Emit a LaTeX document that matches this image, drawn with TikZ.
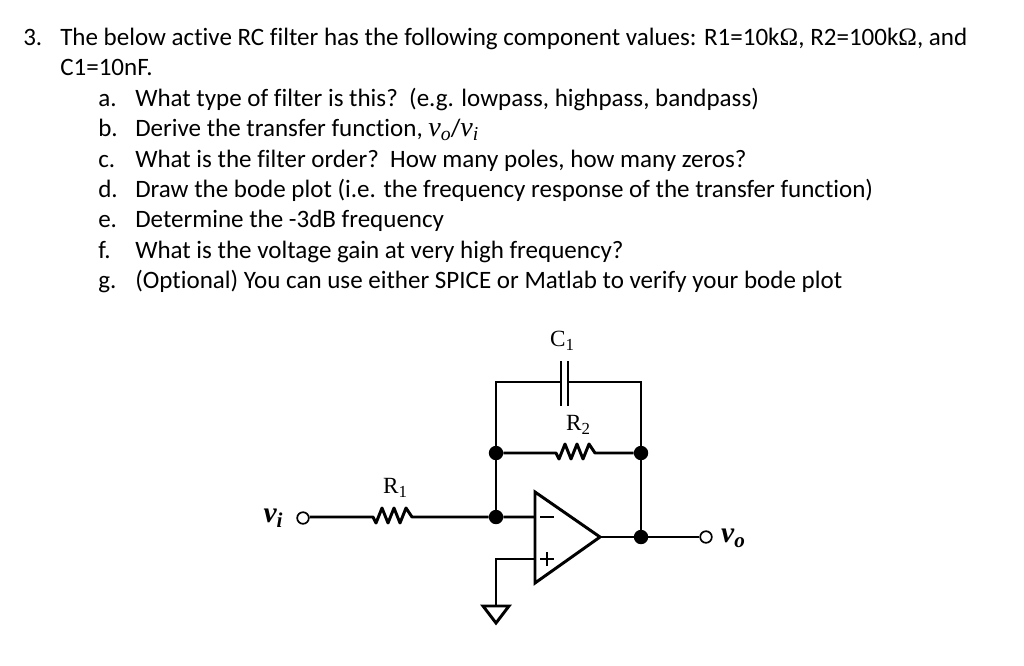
\documentclass[tikz,border=0pt]{standalone}
\usepackage{fontspec}
\setmainfont[Ligatures=NoCommon]{Carlito}
\newfontfamily\varfont{Liberation Serif}
\tikzset{
 wire/.style={line width=2.1pt},
 txt/.style={anchor=base west,inner sep=0pt,font=\fontsize{17.8}{20}\selectfont},
 dot/.style={circle,fill=black,inner sep=0pt,minimum size=0.36cm},
 term/.style={circle,draw,line width=1.2pt,fill=white,inner sep=0pt,minimum size=0.29cm},
 lab/.style={inner sep=0pt,font=\varfont\fontsize{16.5}{18}\selectfont}
}
\newcommand{\sub}[1]{\raisebox{-2.5pt}{\fontsize{12}{12}\selectfont #1}}
\newcommand{\volt}[1]{{\varfont\bfseries\itshape\fontsize{21}{22}\selectfont v\raisebox{-3.5pt}{\fontsize{15}{15}\selectfont #1}}}
\newcommand{\inl}[1]{{\varfont\itshape\fontsize{20}{20}\selectfont v\raisebox{-2.5pt}{\fontsize{14}{14}\selectfont #1}}}
\newcommand{\ohm}{{\varfont\symbol{"03A9}}}
\newcommand{\zig}{-- ++(3,6) -- ++(6,-15) -- ++(6,15) -- ++(6,-15) -- ++(6,15) -- ++(6,-15) -- ++(6,9)}
\begin{document}
\begin{tikzpicture}[x=0.025cm,y=-0.025cm]
 \useasboundingbox (0,0) rectangle (1024,665);
 % question text
 \node [txt] (num) at (23,45) {3.};
 \node [txt] (line1) at (60,45) {The below active RC filter has the following component values: R1=10k\ohm, R2=100k\ohm, and};
 \node [txt] (line2) at (60,75.5) {C1=10nF.};
 \node [txt] (ma) at (98,106) {a.};
 \node [txt] (ta) at (135,106) {What type of filter is this?\ \ (e.g. lowpass, highpass, bandpass)};
 \node [txt] (mb) at (98,136.5) {b.};
 \node [txt] (tb) at (135,136.5) {Derive the transfer function,\ \inl{o}/\inl{i}};
 \node [txt] (mc) at (98,167) {c.};
 \node [txt] (tc) at (135,167) {What is the filter order?\ \ How many poles, how many zeros?};
 \node [txt] (md) at (98,197.5) {d.};
 \node [txt] (td) at (135,197.5) {Draw the bode plot (i.e. the frequency response of the transfer function)};
 \node [txt] (me) at (98,227.5) {e.};
 \node [txt] (te) at (135,227.5) {Determine the -3dB frequency};
 \node [txt] (mf) at (98,258) {f.};
 \node [txt] (tf) at (135,258) {What is the voltage gain at very high frequency?};
 \node [txt] (mg) at (98,288.5) {g.};
 \node [txt] (tg) at (135,288.5) {(Optional) You can use either SPICE or Matlab to verify your bode plot};
 % circuit points
 \node [term] (vin) at (303,518) {};
 \node [term] (vout) at (706,537) {};
 \node [dot] (jin) at (496,517) {};
 \node [dot] (jl) at (496,453) {};
 \node [dot] (jr) at (641,453) {};
 \node [dot] (jout) at (641,537) {};
 \coordinate (tl) at (496,382);
 \coordinate (tr) at (641,382);
 \coordinate (r1a) at (373,517);
 \coordinate (r2a) at (556,453);
 \coordinate (c1a) at (561,382);
 \coordinate (c1b) at (568,382);
 \coordinate (ampa) at (535,492);
 \coordinate (ampb) at (535,583);
 \coordinate (ampo) at (600,537);
 \coordinate (ampm) at (535,517);
 \coordinate (ampp) at (535,559);
 \coordinate (gndc) at (496,559);
 \coordinate (gnd) at (496,606);
 % wires
 \draw [wire,line join=round] (vin.east |- r1a) -- (r1a) \zig -- (jin) -- (ampm);
 \draw [wire] (jin) -- (jl) -- (tl) -- (c1a);
 \draw [wire] (c1b) -- (tr) -- (jr) -- (jout);
 \draw [wire,line join=round] (jl) -- (r2a) \zig -- (jr);
 \draw [wire] (ampo) -- (jout) -- (vout);
 \draw [wire] (ampp) -- (gndc) -- (gnd);
 \draw [wire] (ampa) -- (ampo) -- (ampb) -- cycle;
 \draw [wire] (gnd) ++(-13,0) -- ++(26,0) -- ++(-13,17) -- cycle;
 % capacitor plates
 \draw [wire] (c1a) ++(0,-21) -- ++(0,45);
 \draw [wire] (c1b) ++(0,-21) -- ++(0,45);
 % input signs
 \draw [wire] (540,517) -- (554,517);
 \draw [wire] (540,559) -- (554,559) (547,552) -- (547,566);
 % labels
 \node [lab] (lc1) at (562,341) {C\sub{1}};
 \node [lab] (lr2) at (578,425) {R\sub{2}};
 \node [lab] (lr1) at (395,488) {R\sub{1}};
 \node [lab] (lvi) at (273,518) {\volt{i}};
 \node [lab] (lvo) at (733,538) {\volt{o}};
\end{tikzpicture}
\end{document}
